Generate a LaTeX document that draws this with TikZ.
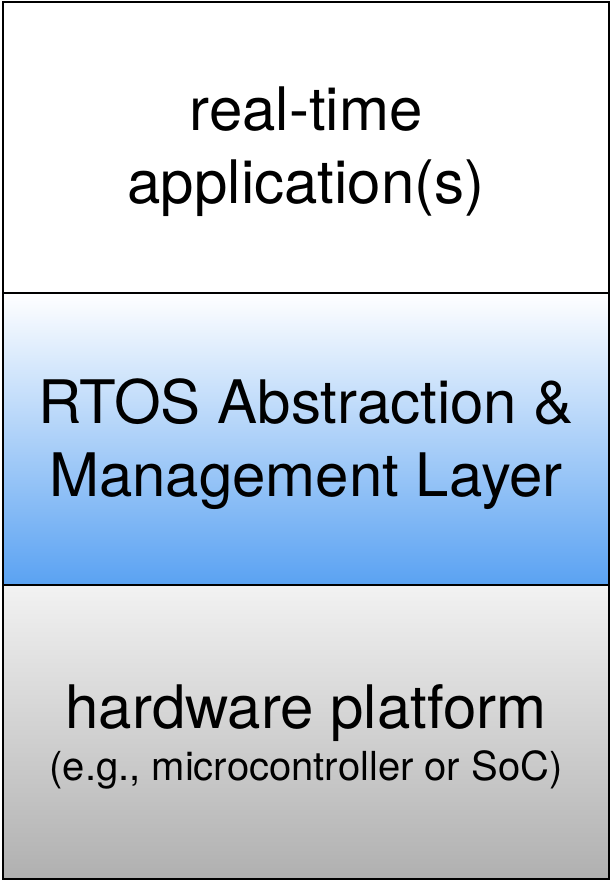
\documentclass[tikz,border=0pt]{standalone}
\usepackage{fontspec}
\setmainfont{TeX Gyre Heros}
\definecolor{blueL}{HTML}{5AA2F2}
\definecolor{grayT}{HTML}{F2F2F2}
\definecolor{grayB}{HTML}{B0B0B0}
\tikzset{layer/.style={draw=black,line width=2pt},
 lbl/.style={align=center,font=\fontsize{60}{73}\selectfont}}
\begin{document}
\begin{tikzpicture}[x=1pt,y=1pt]
\useasboundingbox (0,0) rectangle (612,881);
\fill[white] (0,0) rectangle (612,881);
\path[layer,fill=white] (3,588) rectangle (609,879) node[midway] (app) {};
\shade[top color=white,bottom color=blueL] (3,296) rectangle (609,588);
\path[layer] (3,296) rectangle (609,588) node[midway] (rtos) {};
\shade[top color=grayT,bottom color=grayB] (3,2) rectangle (609,296);
\path[layer] (3,2) rectangle (609,296) node[midway] (hw) {};
\node[lbl] at ([yshift=-4pt]app) {real-time\\application(s)};
\node[lbl] at ([yshift=-5pt]rtos) {RTOS Abstraction \&\\Management Layer};
\node[lbl,anchor=base] (hwt) at (306,152) {hardware platform};
\node[font=\fontsize{40}{48}\selectfont,anchor=base] (hws) at (306,100) {(e.g., microcontroller or SoC)};
\end{tikzpicture}
\end{document}
